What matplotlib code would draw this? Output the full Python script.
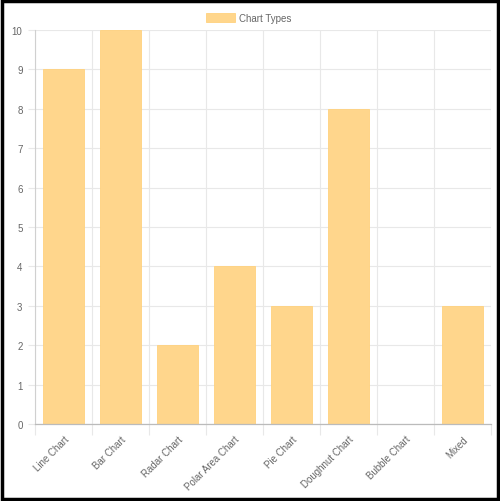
import numpy as np
import matplotlib
matplotlib.use("Agg")
import matplotlib.pyplot as plt
from matplotlib.patches import Rectangle

# chart types and how many of each
categories = ["Line Chart", "Bar Chart", "Radar Chart", "Polar Area Chart",
              "Pie Chart", "Doughnut Chart", "Bubble Chart", "Mixed"]
counts = [9, 10, 2, 4, 3, 8, 0, 3]
series_name = "Chart Types"
y_ticks = list(range(0, 11))

plt.rcParams['font.family'] = ['Liberation Sans', 'DejaVu Sans']
txt = "#666666"
grid = "#E8E8E8"

fig = plt.figure(figsize=(5.0, 5.02), dpi=100)
ax = fig.add_axes([0.07, 0.1534, 0.912, 0.7848])

x = np.arange(len(categories))
ax.bar(x, counts, width=0.72, color="#FFD68C", edgecolor="#FFD27E",
       linewidth=0.6, label=series_name, zorder=2)

ax.set_xlim(-0.5, len(categories) - 0.5)
ax.set_ylim(0, 10)

# y axis
ax.set_yticks(y_ticks)
ax.tick_params(axis="y", length=5, width=0.8, color=grid, pad=4,
               labelsize=7, labelcolor=txt)
ax.yaxis.grid(True, color=grid, linewidth=0.8, zorder=0)

# x axis: labels at the centres, grid lines between the categories
ax.set_xticks(x)
ax.set_xticklabels(categories, rotation=45, ha="right",
                   rotation_mode="anchor", fontsize=7, color=txt)
ax.tick_params(axis="x", which="major", length=0, pad=7)
ax.set_xticks(np.arange(-0.5, len(categories)), minor=True)
ax.tick_params(axis="x", which="minor", length=8, width=0.8, color=grid)
ax.xaxis.grid(True, which="minor", color=grid, linewidth=0.8, zorder=0)
ax.xaxis.grid(False, which="major")

for s in ["top", "right"]:
    ax.spines[s].set_visible(False)
ax.spines["left"].set_color("#D0D0D0")
ax.spines["left"].set_linewidth(0.8)
ax.spines["bottom"].set_color("#BBBBBB")
ax.spines["bottom"].set_linewidth(0.9)
ax.set_axisbelow(True)

fig.legend(loc="center", bbox_to_anchor=(0.497, 1 - 18.5 / 502), frameon=False,
           fontsize=7, labelcolor=txt, handlelength=3.0, handleheight=1.05,
           handletextpad=0.45)

# black frame around the picture
fig.patches.append(Rectangle((0.004, 0.004), 0.992, 0.992, transform=fig.transFigure,
                             fill=False, edgecolor="black", linewidth=2.5))

plt.savefig("out.png", dpi=100)
